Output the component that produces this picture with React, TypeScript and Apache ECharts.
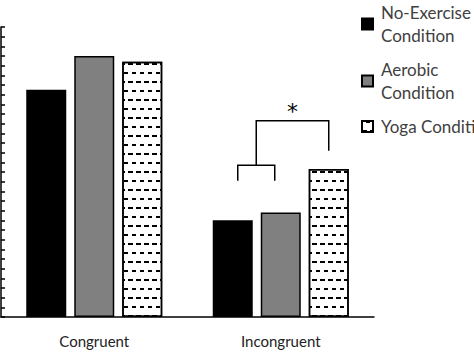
import React, { useEffect, useRef } from "react";
import * as echarts from "echarts";

const categories = ["Congruent", "Incongruent"];
const noExercise = [23.5, 10.0];
const aerobic = [27.0, 10.8];
const yoga = [26.4, 15.3];
const seriesNames = ["No-Exercise Condition", "Aerobic Condition", "Yoga Condition"];
// significance bracket levels (value units) for the Incongruent group
const lowBracket = [14.1, 15.7]; // leg bottom, bar top
const highBracket = [17.2, 20.3]; // right leg bottom, bar top
const starLevel = 21.3;
const yMax = 30;

const FONT = "Lato, 'Open Sans', sans-serif";

export default function App() {
  const ref = useRef<HTMLDivElement>(null);
  useEffect(() => {
    if (!ref.current) return;
    const chart = echarts.init(ref.current, null, { renderer: "svg" });
    const barBase = { type: "bar", barWidth: 40, barGap: "20%" };
    const border = { borderColor: "#000", borderWidth: 1.5 };
    chart.setOption({
      animation: false,
      textStyle: { fontFamily: FONT },
      grid: { left: 1, right: 100, top: 27, bottom: 41 },
      legend: {
        orient: "vertical",
        left: 356,
        top: -4,
        icon: "rect",
        itemWidth: 11,
        itemHeight: 11,
        itemGap: 11,
        data: seriesNames,
        formatter: (n: string) => (n === "Yoga Condition" ? n : n.replace(" ", "\n")),
        textStyle: { fontSize: 17, lineHeight: 23, color: "#404040", fontFamily: FONT, padding: [0, 0, 0, 3] },
      },
      xAxis: {
        type: "category",
        data: categories,
        axisTick: { show: false },
        axisLine: { lineStyle: { color: "#000", width: 1.5 } },
        axisLabel: { fontSize: 15, color: "#222", margin: 16, fontFamily: FONT },
      },
      yAxis: {
        type: "value",
        min: 0,
        max: yMax,
        interval: 1,
        axisLine: { show: true, lineStyle: { color: "#000", width: 1.5 } },
        axisTick: { show: true, inside: true, length: 4, lineStyle: { color: "#000", width: 1.5 } },
        axisLabel: { show: false },
        splitLine: { show: false },
      },
      series: [
        { ...barBase, name: seriesNames[0], data: noExercise, itemStyle: { color: "#000", ...border } },
        { ...barBase, name: seriesNames[1], data: aerobic, itemStyle: { color: "#808080", ...border } },
        {
          ...barBase,
          name: seriesNames[2],
          data: yoga,
          itemStyle: {
            color: "#fff",
            ...border,
            decal: {
              symbol: "rect",
              symbolSize: 1,
              color: "#000",
              backgroundColor: "#fff",
              dashArrayX: [[5, 3], [0, 4, 4, 0]],
              dashArrayY: [1.5, 6.5],
            },
          },
        },
      ],
    });

    const px = (v: number) => chart.convertToPixel({ xAxisIndex: 0, yAxisIndex: 0 }, [categories[1], v]) as number[];
    const cx = px(0)[0];
    const lowL = cx - 43;
    const lowR = cx - 6;
    const lowMid = (lowL + lowR) / 2;
    const highR = cx + 48;
    const yLowLeg = px(lowBracket[0])[1];
    const yLowTop = px(lowBracket[1])[1];
    const yHighLeg = px(highBracket[0])[1];
    const yHighTop = px(highBracket[1])[1];
    const yStar = px(starLevel)[1];
    const ls = { stroke: "#000", lineWidth: 1.5, fill: null };
    chart.setOption({
      graphic: [
        {
          type: "polyline",
          shape: { points: [[lowL, yLowLeg], [lowL, yLowTop], [lowR, yLowTop], [lowR, yLowLeg]] },
          style: ls,
        },
        {
          type: "polyline",
          shape: { points: [[lowMid, yLowTop], [lowMid, yHighTop], [highR, yHighTop], [highR, yHighLeg]] },
          style: ls,
        },
        {
          type: "text",
          x: (lowMid + highR) / 2,
          y: yStar,
          style: { text: "*", fontSize: 22, fill: "#000", align: "center", verticalAlign: "middle", fontFamily: "'DejaVu Sans', sans-serif" },
        },
      ],
    });
    return () => chart.dispose();
  }, []);
  return <div ref={ref} style={{ position: "fixed", left: 0, top: 0, width: 474, height: 358, background: "#fff" }} />;
}
